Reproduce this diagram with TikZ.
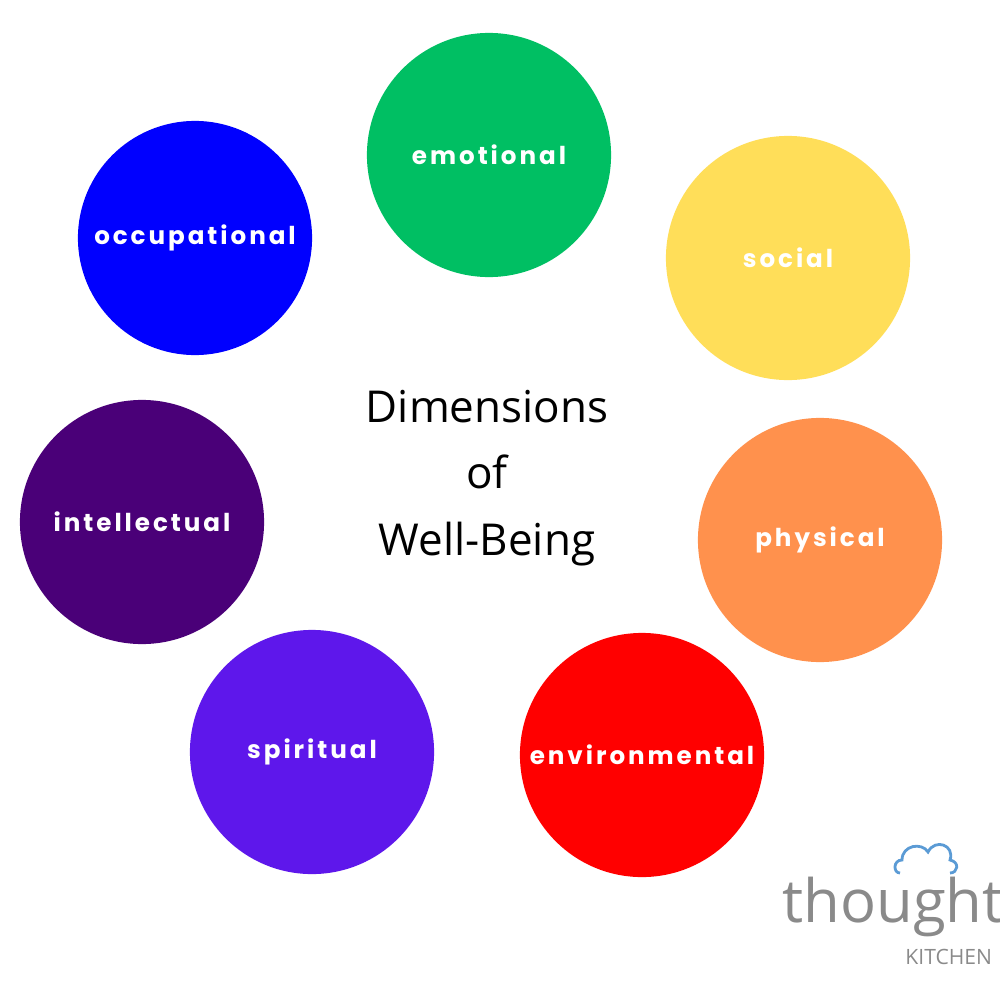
\documentclass[tikz,border=0pt]{standalone}
\usepackage{fontspec}
\setmainfont{Open Sans}
\newfontfamily\labelfont[LetterSpace=12]{Poppins}
\usetikzlibrary{positioning}
\definecolor{cEmo}{HTML}{00BF63}
\definecolor{cSoc}{HTML}{FFDE59}
\definecolor{cPhy}{HTML}{FF914D}
\definecolor{cEnv}{HTML}{FF0000}
\definecolor{cSpi}{HTML}{5E17EB}
\definecolor{cInt}{HTML}{4A0078}
\definecolor{cOcc}{HTML}{0000FF}
\definecolor{cLogo}{HTML}{8A8A8A}
\definecolor{cCloud}{HTML}{5B9BD5}
\begin{document}
\begin{tikzpicture}[x=0.01cm, y=-0.01cm]

\tikzset{blob/.style={circle, minimum size=2.44cm, inner sep=0pt, text=white,
  font=\labelfont\fontsize{7}{8}\selectfont\bfseries}}

\useasboundingbox (0,0) rectangle (1000,1000);

\node[blob, fill=cEmo] (emo) at (489,155) {emotional};
\node[blob, fill=cSoc] (soc) at (788,258) {social};
\node[blob, fill=cPhy] (phy) at (820,540) {physical};
\node[blob, fill=cEnv] (env) at (642,755) {environmental};
\node[blob, fill=cSpi] (spi) at (312,752) {spiritual};
\node[blob, fill=cInt] (int) at (142,522) {intellectual};
\node[blob, fill=cOcc, minimum size=2.34cm] (occ) at (195,238) {occupational};

\node[align=center, font=\fontsize{12.5}{19}\selectfont] (title) at (487,478)
  {Dimensions\\of\\Well-Being};

% logo
\node[text=cLogo, font=\fontsize{17}{17}\selectfont, inner sep=0pt] (tho) at (893,907) {thought};
\node[text=cLogo, font=\fontsize{6}{6}\selectfont, inner sep=0pt, below left=3pt and -60pt of tho] (kit) {KITCHEN};
\draw[cCloud, line width=0.8pt] (900,873) .. controls (893,873) and (893,860) .. (902,860)
  .. controls (902,845) and (922,842) .. (928,852)
  .. controls (935,838) and (955,845) .. (950,860)
  .. controls (960,862) and (958,873) .. (950,873);

\end{tikzpicture}
\end{document}
